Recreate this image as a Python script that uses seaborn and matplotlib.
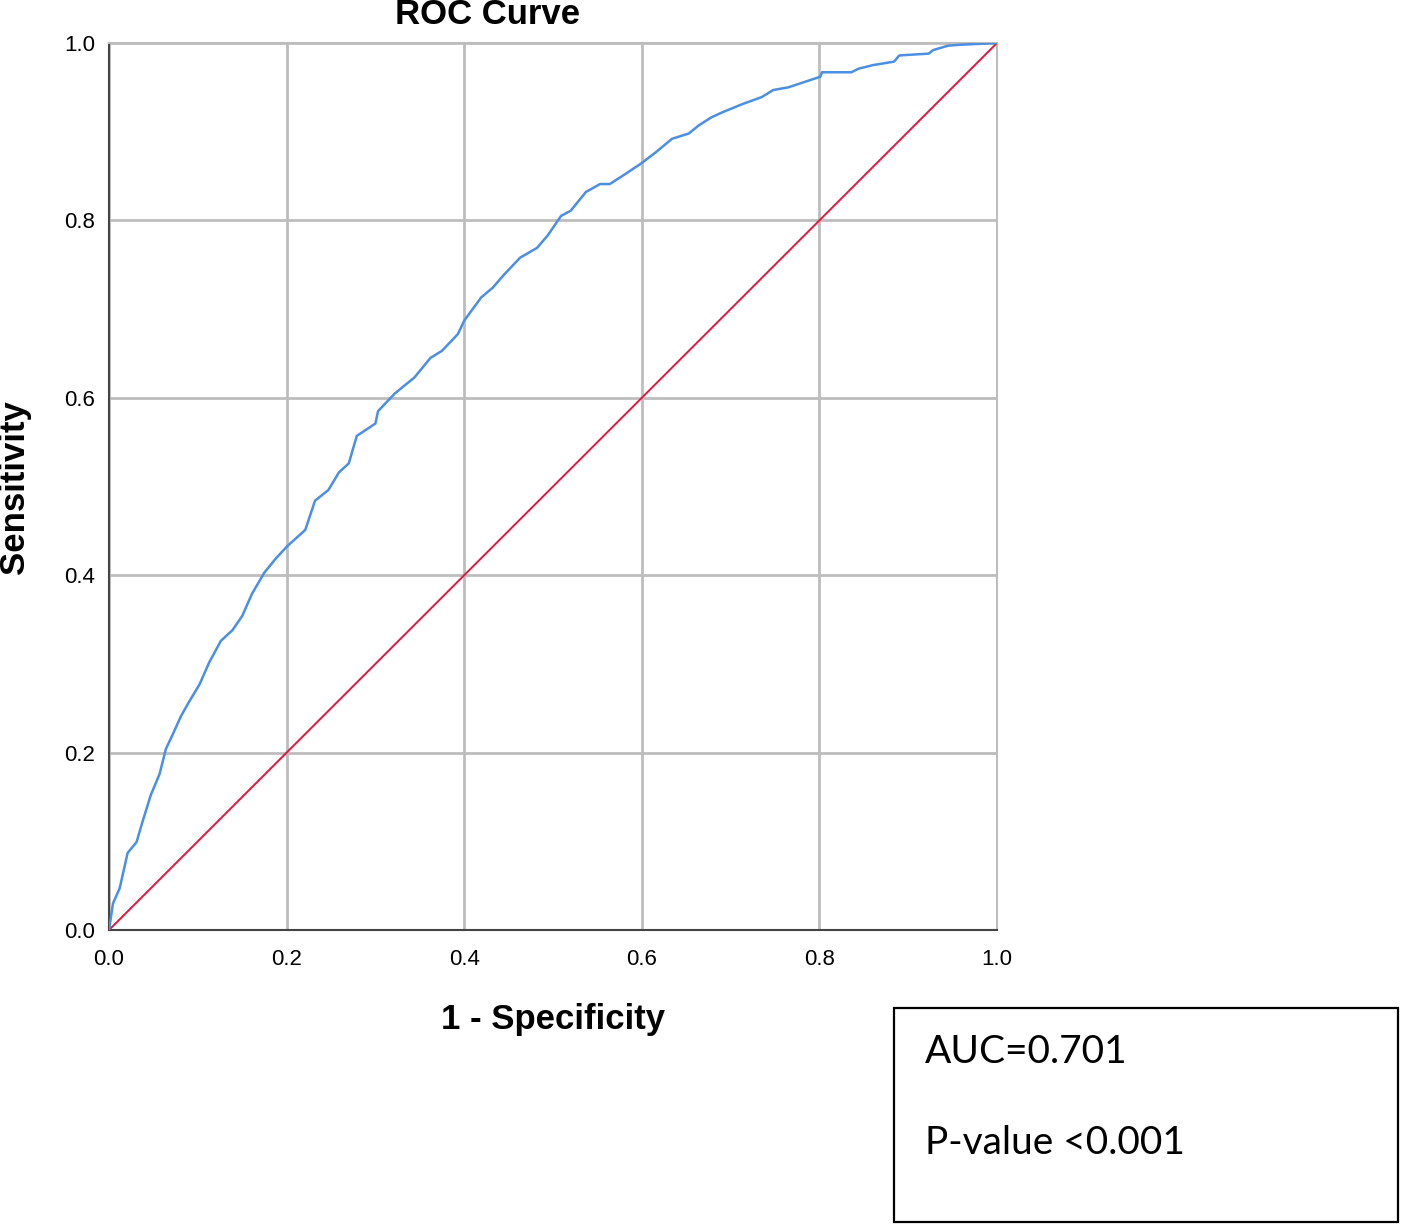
import matplotlib
matplotlib.use("Agg")
import matplotlib.pyplot as plt
import numpy as np
import pandas as pd
import seaborn as sns
from matplotlib.patches import Rectangle

# ROC curve
fpr = [0.0, 0.0045, 0.012, 0.021, 0.031, 0.038, 0.047, 0.057, 0.064, 0.072,
       0.081, 0.090, 0.102, 0.113, 0.126, 0.139, 0.150, 0.161, 0.175, 0.188,
       0.201, 0.221, 0.232, 0.247, 0.259, 0.270, 0.279, 0.300, 0.303, 0.322,
       0.344, 0.362, 0.375, 0.393, 0.400, 0.419, 0.432, 0.445, 0.463, 0.482,
       0.494, 0.509, 0.520, 0.537, 0.553, 0.564, 0.581, 0.599, 0.616, 0.634,
       0.653, 0.664, 0.678, 0.691, 0.713, 0.735, 0.748, 0.765, 0.783, 0.801,
       0.803, 0.836, 0.844, 0.860, 0.884, 0.890, 0.923, 0.928, 0.945, 0.958,
       1.0]
tpr = [0.0, 0.030, 0.047, 0.087, 0.099, 0.123, 0.152, 0.176, 0.204, 0.221,
       0.241, 0.257, 0.277, 0.302, 0.326, 0.338, 0.354, 0.379, 0.403, 0.419,
       0.433, 0.451, 0.484, 0.496, 0.516, 0.526, 0.557, 0.571, 0.585, 0.605,
       0.623, 0.645, 0.653, 0.672, 0.687, 0.713, 0.724, 0.739, 0.758, 0.769,
       0.783, 0.805, 0.811, 0.832, 0.841, 0.841, 0.852, 0.864, 0.877, 0.892,
       0.898, 0.907, 0.916, 0.922, 0.931, 0.939, 0.947, 0.950, 0.956, 0.962,
       0.967, 0.967, 0.971, 0.975, 0.979, 0.986, 0.988, 0.992, 0.997, 0.998,
       1.0]
ref_line = [0.0, 1.0]
ticks = [0.0, 0.2, 0.4, 0.6, 0.8, 1.0]
auc_text = "AUC=0.701"
p_text = "P-value <0.001"

W, H = 1402, 1225


def _set_style():
    sns.set_theme(style="whitegrid")
    plt.rcParams["font.family"] = ["Liberation Sans", "DejaVu Sans"]
    plt.rcParams["text.color"] = "black"


def roc_curve_figure():
    _set_style()
    fig = plt.figure(figsize=(W / 100, H / 100), dpi=100)
    ax = fig.add_axes([109 / W, 1 - 930 / H, (997 - 109) / W, (930 - 43) / H])

    roc = pd.DataFrame({"fpr": fpr, "tpr": tpr})
    diag = pd.DataFrame({"x": ref_line, "y": ref_line})
    sns.lineplot(data=diag, x="x", y="y", ax=ax, color="#e3173e", lw=1.4,
                 sort=False, estimator=None, zorder=3)
    sns.lineplot(data=roc, x="fpr", y="tpr", ax=ax, color="#4a8fe3", lw=1.8,
                 sort=False, estimator=None, zorder=4)

    ax.set_xlim(0, 1)
    ax.set_ylim(0, 1)
    ax.set_xticks(ticks)
    ax.set_yticks(ticks)
    ax.set_xticklabels([f"{t:.1f}" for t in ticks])
    ax.set_yticklabels([f"{t:.1f}" for t in ticks])
    ax.tick_params(length=0, labelsize=16, colors="black")
    ax.tick_params(axis="x", pad=14)
    ax.tick_params(axis="y", pad=10)
    ax.grid(True, color="#bdbdbd", lw=2)
    ax.set_facecolor("white")
    for side in ["top", "right"]:
        ax.spines[side].set_color("#bdbdbd")
        ax.spines[side].set_linewidth(1.5)
    for side in ["left", "bottom"]:
        ax.spines[side].set_color("#444444")
        ax.spines[side].set_linewidth(1.5)

    ax.set_xlabel("")
    ax.set_ylabel("")
    fig.text(553 / W, 1 - 1020 / H, "1 - Specificity", ha="center", va="center",
             fontsize=25, fontweight="bold")
    fig.text(15 / W, 1 - 487 / H, "Sensitivity", ha="center", va="center",
             rotation=90, fontsize=25, fontweight="bold")
    fig.text(488 / W, 1 - 14 / H, "ROC Curve", ha="center", va="center",
             fontsize=25, fontweight="bold")

    box = Rectangle((894 / W, 1 - 1222 / H), (1398 - 894) / W, (1222 - 1008) / H,
                    transform=fig.transFigure, fill=False, edgecolor="black", lw=1.6)
    fig.patches.append(box)
    fig.text(925 / W, 1 - 1052 / H, auc_text, ha="left", va="center",
             fontsize=28, family=["Lato", "DejaVu Sans"])
    fig.text(925 / W, 1 - 1143 / H, p_text, ha="left", va="center",
             fontsize=28, family=["Lato", "DejaVu Sans"])

    fig.savefig("out.png", dpi=100, facecolor="white")


if __name__ == "__main__":
    roc_curve_figure()
